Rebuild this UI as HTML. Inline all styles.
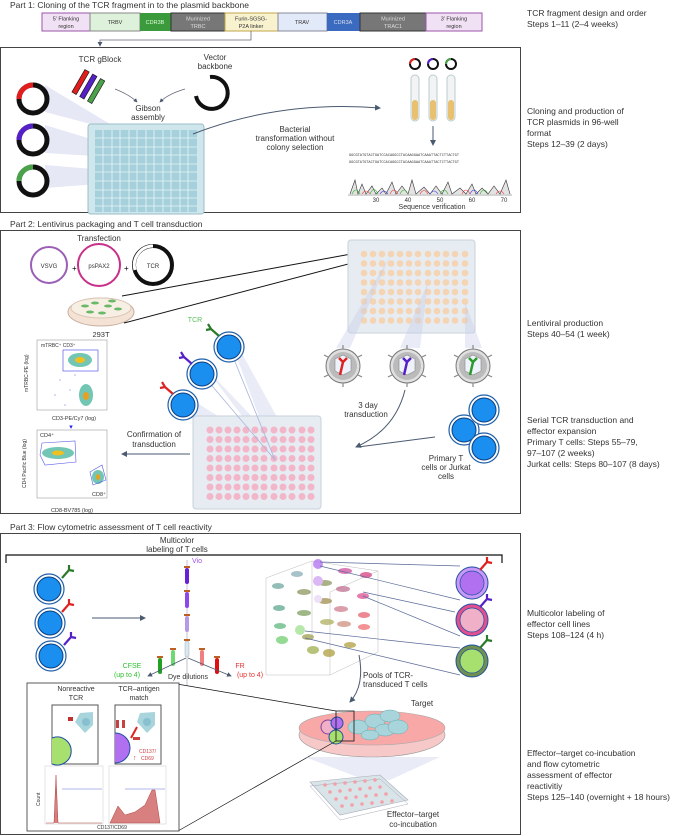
<!DOCTYPE html>
<html><head><meta charset="utf-8"><style>
body{margin:0;background:#fff;}
svg{display:block;font-family:"Liberation Sans",sans-serif;}
.t{font-size:8px;fill:#333}
.r{font-size:8.5px;fill:#333}
</style></head><body>
<svg width="685" height="836" viewBox="0 0 685 836">
<defs>
<marker id="a" markerWidth="6" markerHeight="6" refX="5" refY="3" orient="auto"><path d="M0,0 L6,3 L0,6 Z" fill="#4a5a70"/></marker>
<g id="tcell"><circle r="15" fill="#fff" stroke="#1f5fa8" stroke-width="1.2"/><circle r="12" fill="#1a8ff0" stroke="#0d3f80" stroke-width="1"/></g>
<g id="vir"><circle r="17" fill="#e0e0e0" stroke="#777" stroke-width="1"/><circle r="14" fill="#bbb"/><polygon points="-8,-7 0,-11 8,-7 8,5 0,9 -8,5" fill="#eef2fa" stroke="#888" stroke-width=".6"/>
<g stroke="#888" stroke-width="1.2"><line x1="0" y1="-17" x2="0" y2="-21"/><line x1="15" y1="-9" x2="19" y2="-11"/><line x1="15" y1="9" x2="19" y2="11"/><line x1="0" y1="17" x2="0" y2="21"/><line x1="-15" y1="9" x2="-19" y2="11"/><line x1="-15" y1="-9" x2="-19" y2="-11"/></g></g>
</defs>
<!-- Part 1 -->
<text x="10" y="8" class="r">Part 1: Cloning of the TCR fragment in to the plasmid backbone</text>
<g font-size="5.5" text-anchor="middle">
<rect x="42" y="13" width="48" height="18" fill="#f1e1f4" stroke="#9b55a8"/><text x="66" y="20.5" fill="#333">5' Flanking</text><text x="66" y="28" fill="#333">region</text>
<rect x="90" y="13" width="50" height="18" fill="#def1da" stroke="#888"/><text x="115" y="24" fill="#333">TRBV</text>
<rect x="140" y="13" width="31" height="18" fill="#3b9a3b"/><text x="155" y="24" fill="#dfd">CDR3B</text>
<rect x="171" y="13" width="54" height="18" fill="#777" stroke="#333"/><text x="198" y="20.5" fill="#ddd">Murinized</text><text x="198" y="28" fill="#ddd">TRBC</text>
<rect x="225" y="13" width="53" height="18" fill="#f8f2cf" stroke="#c3a54a"/><text x="251" y="20.5" fill="#333">Furin-SGSG-</text><text x="251" y="28" fill="#333">P2A linker</text>
<rect x="278" y="13" width="49" height="18" fill="#e2e9f8" stroke="#889"/><text x="302" y="24" fill="#333">TRAV</text>
<rect x="327" y="13" width="33" height="18" fill="#3a6bc0"/><text x="343" y="24" fill="#dde">CDR3A</text>
<rect x="360" y="13" width="66" height="18" fill="#777" stroke="#333"/><text x="393" y="20.5" fill="#ddd">Murinized</text><text x="393" y="28" fill="#ddd">TRAC1</text>
<rect x="426" y="13" width="56" height="18" fill="#f1e1f4" stroke="#9b55a8"/><text x="454" y="20.5" fill="#333">3' Flanking</text><text x="454" y="28" fill="#333">region</text>
</g>
<path d="M251,31 V40 H100 V46" fill="none" stroke="#667" stroke-width="0.8" marker-end="url(#a)"/>
<rect x="0.5" y="47.5" width="520" height="165" fill="none" stroke="#444"/>
<text x="100" y="62" class="t" text-anchor="middle">TCR gBlock</text>
<g transform="translate(95,80) rotate(30)"><rect x="-14" y="-4" width="5" height="26" fill="#e21d1d" stroke="#111" stroke-width=".6"/><rect x="-5" y="-4" width="5" height="26" fill="#5520c8" stroke="#111" stroke-width=".6"/><rect x="4" y="-4" width="5" height="26" fill="#4aa34a" stroke="#111" stroke-width=".6"/></g>
<text x="215" y="60" class="t" text-anchor="middle">Vector</text><text x="215" y="69" class="t" text-anchor="middle">backbone</text>
<path d="M210,77 A16,16 0 1 1 196,96" fill="none" stroke="#111" stroke-width="4"/>
<path d="M115,89 Q130,95 137,102" fill="none" stroke="#667" stroke-width=".7" marker-end="url(#a)"/>
<path d="M185,89 Q168,94 160,102" fill="none" stroke="#667" stroke-width=".7" marker-end="url(#a)"/>
<text x="148" y="111" class="t" text-anchor="middle">Gibson</text><text x="148" y="120" class="t" text-anchor="middle">assembly</text>
<polygon points="45,85 125,133 45,112" fill="#c7cde8" opacity=".45"/>
<polygon points="45,125 160,160 45,153" fill="#c7cde8" opacity=".45"/>
<polygon points="45,165 190,177 45,188" fill="#c7cde8" opacity=".45"/>
<rect x="88" y="124" width="116" height="90" rx="3" fill="#cfe6ec" stroke="#9bbfc8"/>
<rect x="95" y="130" width="102" height="82" fill="#a6d1dc"/>
<g stroke="#e8f4f7" stroke-width=".8">
<path d="M103,130V212M112,130V212M120,130V212M129,130V212M137,130V212M146,130V212M154,130V212M163,130V212M171,130V212M180,130V212M188,130V212M95,138H197M95,147H197M95,155H197M95,164H197M95,172H197M95,181H197M95,190H197M95,198H197M95,206H197"/></g>
<g transform="translate(33,99)"><circle r="14" fill="none" stroke="#111" stroke-width="5"/><path d="M-14,0 A14,14 0 0 1 0,-14" fill="none" stroke="#e21d1d" stroke-width="5"/></g>
<g transform="translate(33,140)"><circle r="14" fill="none" stroke="#111" stroke-width="5"/><path d="M-14,0 A14,14 0 0 1 0,-14" fill="none" stroke="#5520c8" stroke-width="5"/></g>
<g transform="translate(33,181)"><circle r="14" fill="none" stroke="#111" stroke-width="5"/><path d="M-14,0 A14,14 0 0 1 0,-14" fill="none" stroke="#4aa34a" stroke-width="5"/></g>
<path d="M193,134 Q280,100 380,108" fill="none" stroke="#4a5a70" stroke-width="1" marker-end="url(#a)"/>
<text x="295" y="132" class="t" text-anchor="middle">Bacterial</text><text x="295" y="141" class="t" text-anchor="middle">transformation without</text><text x="295" y="150" class="t" text-anchor="middle">colony selection</text>
<g>
<circle cx="415" cy="64" r="5" fill="none" stroke="#111" stroke-width="2"/><path d="M410,64 A5,5 0 0 1 415,59" fill="none" stroke="#e21d1d" stroke-width="2"/>
<circle cx="433" cy="64" r="5" fill="none" stroke="#111" stroke-width="2"/><path d="M428,64 A5,5 0 0 1 433,59" fill="none" stroke="#5520c8" stroke-width="2"/>
<circle cx="451" cy="64" r="5" fill="none" stroke="#111" stroke-width="2"/><path d="M446,64 A5,5 0 0 1 451,59" fill="none" stroke="#4aa34a" stroke-width="2"/>
<g fill="#f1f3f4" stroke="#bcc"><rect x="411" y="75" width="8" height="46" rx="4"/><rect x="429" y="75" width="8" height="46" rx="4"/><rect x="447" y="75" width="8" height="46" rx="4"/></g>
<g fill="#e8c070"><rect x="412" y="100" width="6" height="20" rx="3"/><rect x="430" y="100" width="6" height="20" rx="3"/><rect x="448" y="100" width="6" height="20" rx="3"/></g>
</g>
<path d="M433,126 V145" stroke="#4a5a70" stroke-width="1" marker-end="url(#a)"/>
<text x="349" y="156" font-size="3.6" font-family="Liberation Mono" fill="#333">GGCGTATGTACTGATCCACAGGCCTACAAGGAATCAAATTACTCTTACTGT</text>
<text x="349" y="163" font-size="3.6" font-family="Liberation Mono" fill="#333">GGCGTATGTACTGATCCACAGGCCTACAAGGAATCAAATTACTCTTACTGT</text>
<path d="M350,194 L355,180 L358,194 L362,184 L366,194 L372,186 L376,194 L382,188 L386,194 L392,182 L396,194 L402,186 L408,194 L412,180 L416,194 L424,187 L430,194 L436,186 L442,194 L448,182 L452,194 L460,188 L466,194 L472,184 L476,194 L482,188 L488,194 L494,186 L500,194 L506,180 L510,194" fill="#e3e3e3" stroke="#333" stroke-width=".6"/>
<path d="M352,194 Q356,186 360,194 M370,194 Q374,185 378,194 M400,194 Q404,186 408,194 M440,194 Q444,186 448,194 M480,194 Q484,186 488,194" fill="none" stroke="#2a2" stroke-width=".6"/>
<path d="M362,194 Q366,188 370,194 M390,194 Q394,186 398,194 M420,194 Q424,187 428,194 M462,194 Q466,186 470,194 M496,194 Q500,188 504,194" fill="none" stroke="#e33" stroke-width=".6"/>
<path d="M380,194 Q384,188 388,194 M430,194 Q434,188 438,194 M470,194 Q474,186 478,194" fill="none" stroke="#33d" stroke-width=".6"/>
<line x1="348" y1="195" x2="512" y2="195" stroke="#555" stroke-width=".6"/>
<g font-size="6" fill="#333" text-anchor="middle"><text x="376" y="202">30</text><text x="408" y="202">40</text><text x="440" y="202">50</text><text x="472" y="202">60</text><text x="504" y="202">70</text></g>
<text x="432" y="209" font-size="7" fill="#333" text-anchor="middle">Sequence verification</text>

<!-- Part 2 -->
<text x="10" y="227" class="r">Part 2: Lentivirus packaging and T cell transduction</text>
<rect x="0.5" y="230.5" width="520" height="283" fill="none" stroke="#444"/>
<text x="99" y="241" class="t" text-anchor="middle">Transfection</text>
<circle cx="49" cy="265" r="18" fill="none" stroke="#9b5fb5" stroke-width="2"/><text x="49" y="268" font-size="6" text-anchor="middle" fill="#333">VSVG</text>
<text x="72" y="271" font-size="8">+</text>
<circle cx="99" cy="265" r="21" fill="none" stroke="#c8308a" stroke-width="2"/><text x="99" y="268" font-size="6" text-anchor="middle" fill="#333">psPAX2</text>
<text x="124" y="271" font-size="8">+</text>
<circle cx="153" cy="265" r="19" fill="none" stroke="#111" stroke-width="4"/><path d="M153,246 A19,19 0 0 0 135,270" fill="none" stroke="#fff" stroke-width="3"/><text x="153" y="268" font-size="6" text-anchor="middle" fill="#333">TCR</text>
<ellipse cx="101" cy="312" rx="33" ry="14" fill="#f4e2d4" stroke="#c8b0a0"/><ellipse cx="101" cy="308" rx="30" ry="10" fill="#f8efe4" stroke="#d8c4b4"/>
<g fill="#6ab86a"><ellipse cx="85" cy="306" rx="4" ry="1.5"/><ellipse cx="95" cy="303" rx="4" ry="1.5"/><ellipse cx="108" cy="306" rx="4" ry="1.5"/><ellipse cx="118" cy="309" rx="4" ry="1.5"/><ellipse cx="90" cy="312" rx="4" ry="1.5"/><ellipse cx="102" cy="313" rx="4" ry="1.5"/><ellipse cx="112" cy="301" rx="4" ry="1.5"/></g>
<text x="101" y="337" font-size="7.5" text-anchor="middle" fill="#333">293T</text>
<line x1="122" y1="296" x2="362" y2="252" stroke="#111" stroke-width="1"/>
<line x1="124" y1="323" x2="390" y2="253" stroke="#111" stroke-width="1"/>
<rect x="348" y="240" width="127" height="93" rx="3" fill="#e6ecf2" stroke="#c8d2dc"/>
<g fill="#f4d4b2">
<g id="row1"><circle cx="364" cy="254" r="3.3"/><circle cx="373" cy="254" r="3.3"/><circle cx="382" cy="254" r="3.3"/><circle cx="391" cy="254" r="3.3"/><circle cx="400" cy="254" r="3.3"/><circle cx="409" cy="254" r="3.3"/><circle cx="418" cy="254" r="3.3"/><circle cx="428" cy="254" r="3.3"/><circle cx="437" cy="254" r="3.3"/><circle cx="446" cy="254" r="3.3"/><circle cx="455" cy="254" r="3.3"/><circle cx="465" cy="254" r="3.3"/></g>
<use href="#row1" y="9.5"/><use href="#row1" y="19"/><use href="#row1" y="28.5"/><use href="#row1" y="38"/><use href="#row1" y="47.5"/><use href="#row1" y="57"/><use href="#row1" y="66.5"/>
</g>
<polygon points="336,348 391,254 350,348" fill="#c7cde8" opacity=".4"/>
<polygon points="400,348 428,282 420,348" fill="#c7cde8" opacity=".4"/>
<polygon points="465,348 465,302 482,348" fill="#c7cde8" opacity=".4"/>
<use href="#vir" x="343" y="366"/><use href="#vir" x="407" y="366"/><use href="#vir" x="473" y="366"/>
<path d="M340,375 L343,362 M343,362 l-4,-4 M343,362 l4,-4" stroke="#d22" stroke-width="2.5" fill="none"/>
<path d="M404,375 L407,362 M407,362 l-4,-4 M407,362 l4,-4" stroke="#5520c8" stroke-width="2.5" fill="none"/>
<path d="M470,375 L473,362 M473,362 l-4,-4 M473,362 l4,-4" stroke="#2a9a2a" stroke-width="2.5" fill="none"/>
<text x="368" y="408" class="t" text-anchor="middle">3 day</text><text x="366" y="417" class="t" text-anchor="middle">transduction</text>
<path d="M405,390 Q395,430 356,447" fill="none" stroke="#4a5a70" stroke-width="1" marker-end="url(#a)"/>
<path d="M435,437 L358,447" fill="none" stroke="#4a5a70" stroke-width="1"/>
<use href="#tcell" x="464" y="430"/><use href="#tcell" x="484" y="410"/><use href="#tcell" x="484" y="448"/>
<text x="446" y="461" class="t" text-anchor="middle">Primary T</text><text x="446" y="470" class="t" text-anchor="middle">cells or Jurkat</text><text x="446" y="479" class="t" text-anchor="middle">cells</text>
<text x="195" y="322" font-size="7" fill="#5cc05c" text-anchor="middle">TCR</text>
<polygon points="229,336 275,460 310,477 240,350" fill="#c7cde8" opacity=".4"/>
<polygon points="202,363 275,460 310,477 215,378" fill="#c7cde8" opacity=".4"/>
<polygon points="183,394 240,430 210,425 190,418" fill="#c7cde8" opacity=".4"/>
<rect x="193" y="416" width="128" height="93" rx="3" fill="#e6ecf2" stroke="#c8d2dc"/>
<g fill="#f2b6c8">
<g id="row2"><circle cx="210" cy="430" r="3.5"/><circle cx="219" cy="430" r="3.5"/><circle cx="228" cy="430" r="3.5"/><circle cx="237" cy="430" r="3.5"/><circle cx="246" cy="430" r="3.5"/><circle cx="255" cy="430" r="3.5"/><circle cx="264" cy="430" r="3.5"/><circle cx="274" cy="430" r="3.5"/><circle cx="283" cy="430" r="3.5"/><circle cx="292" cy="430" r="3.5"/><circle cx="302" cy="430" r="3.5"/><circle cx="311" cy="430" r="3.5"/></g>
<use href="#row2" y="9.5"/><use href="#row2" y="19"/><use href="#row2" y="28.5"/><use href="#row2" y="38"/><use href="#row2" y="47.5"/><use href="#row2" y="57"/><use href="#row2" y="66.5"/>
</g>
<line x1="229" y1="347" x2="275" y2="460" stroke="#a8b4dc" stroke-width=".8"/>
<line x1="202" y1="374" x2="275" y2="460" stroke="#a8b4dc" stroke-width=".8"/>
<use href="#tcell" x="229" y="347"/><use href="#tcell" x="202" y="374"/><use href="#tcell" x="183" y="405"/>
<path d="M219,336 L211,329 M211,329 l-3,-5 M211,329 l-5,1" stroke="#2a7a2a" stroke-width="2.2" fill="none"/>
<path d="M192,364 L184,357 M184,357 l-3,-5 M184,357 l-5,1" stroke="#5520c8" stroke-width="2.2" fill="none"/>
<path d="M173,394 L165,387 M165,387 l-3,-5 M165,387 l-5,1" stroke="#d22" stroke-width="2.2" fill="none"/>
<text x="154" y="437" class="t" text-anchor="middle">Confirmation of</text><text x="154" y="447" class="t" text-anchor="middle">transduction</text>
<line x1="190" y1="454" x2="122" y2="454" stroke="#4a5a70" stroke-width="1" marker-end="url(#a)"/>
<rect x="37" y="340" width="70" height="70" fill="#fff" stroke="#888" stroke-width=".5"/>
<text x="41" y="347" font-size="5" fill="#333">mTRBC⁺ CD3⁺</text>
<rect x="63" y="350" width="35" height="21" fill="none" stroke="#5a5ae8" stroke-width=".7"/>
<ellipse cx="80" cy="360" rx="12" ry="7" fill="#4fb8a0" opacity=".8"/><ellipse cx="80" cy="360" rx="5" ry="3" fill="#f0c020"/>
<ellipse cx="86" cy="395" rx="7" ry="11" fill="#4fb8a0" opacity=".8"/><ellipse cx="86" cy="396" rx="3" ry="4" fill="#e8a020"/>
<g fill="#5a6ae8" opacity=".5"><circle cx="60" cy="380" r=".8"/><circle cx="70" cy="390" r=".8"/><circle cx="55" cy="395" r=".8"/><circle cx="75" cy="375" r=".8"/><circle cx="65" cy="405" r=".8"/></g>
<text x="74" y="420" font-size="5.5" fill="#333" text-anchor="middle">CD3-PE/Cy7 (log)</text>
<text x="28" y="392" font-size="5" fill="#333" transform="rotate(-90 28 392)">mTRBC-PE (log)</text>
<text x="71" y="429" font-size="7" fill="#22e" text-anchor="middle">▾</text>
<rect x="37" y="430" width="70" height="68" fill="#fff" stroke="#888" stroke-width=".5"/>
<text x="40" y="437" font-size="5.5" fill="#333">CD4⁺</text><text x="92" y="496" font-size="5.5" fill="#333">CD8⁺</text>
<polygon points="42,443 75,441 76,462 45,465 40,455" fill="none" stroke="#5a5ae8" stroke-width=".6"/>
<ellipse cx="58" cy="453" rx="16" ry="6" fill="#4fb8a0" opacity=".8"/><ellipse cx="58" cy="453" rx="6" ry="2.5" fill="#f0c020"/>
<ellipse cx="98" cy="477" rx="6" ry="7" fill="#4fb8a0" opacity=".8"/><ellipse cx="98" cy="477" rx="2" ry="3" fill="#e8a020"/>
<path d="M90,472 L102,465 L106,480 L93,485 Z" fill="none" stroke="#5a5ae8" stroke-width=".6"/>
<text x="72" y="512" font-size="5.5" fill="#333" text-anchor="middle">CD8-BV785 (log)</text>
<text x="26" y="488" font-size="5" fill="#333" transform="rotate(-90 26 488)">CD4 Pacific Blue (log)</text>

<!-- Part 3 -->
<text x="10" y="530" class="r">Part 3: Flow cytometric assessment of T cell reactivity</text>
<rect x="0.5" y="533.5" width="520" height="301" fill="none" stroke="#444"/>
<text x="177" y="543" class="t" text-anchor="middle">Multicolor</text><text x="177" y="552" class="t" text-anchor="middle">labeling of T cells</text>
<path d="M6,563 V555 H502 V563" fill="none" stroke="#111" stroke-width="1.2"/>
<use href="#tcell" x="49" y="589"/><use href="#tcell" x="50" y="623"/><use href="#tcell" x="51" y="656"/>
<path d="M62,578 L69,570 M69,570 l0,-5 M69,570 l5,1" stroke="#2a7a2a" stroke-width="2.2" fill="none"/>
<path d="M62,612 L69,604 M69,604 l0,-5 M69,604 l5,1" stroke="#d22" stroke-width="2.2" fill="none"/>
<path d="M64,645 L71,637 M71,637 l0,-5 M71,637 l5,1" stroke="#5520c8" stroke-width="2.2" fill="none"/>
<line x1="92" y1="618" x2="145" y2="618" stroke="#4a5a70" stroke-width="1" marker-end="url(#a)"/>
<line x1="187" y1="560" x2="187" y2="686" stroke="#99a" stroke-width=".6"/>
<text x="192" y="563" font-size="7" fill="#a050f0">Vio</text>
<g><rect x="184" y="566" width="6" height="2" fill="#c06020"/><rect x="185" y="568" width="4" height="16" rx="2" fill="#6a1fd8"/>
<rect x="184" y="590" width="6" height="2" fill="#c06020"/><rect x="185" y="592" width="4" height="16" rx="2" fill="#8c48e8"/>
<rect x="184" y="614" width="6" height="2" fill="#c06020"/><rect x="185" y="616" width="4" height="16" rx="2" fill="#b898e8"/>
<rect x="184" y="639" width="6" height="2" fill="#c06020"/><rect x="185" y="641" width="4" height="16" rx="2" fill="#d8e8f0" stroke="#99a" stroke-width=".4"/>
<rect x="157" y="656" width="6" height="2" fill="#c06020"/><rect x="158" y="658" width="4" height="16" rx="2" fill="#22a022"/>
<rect x="170" y="648" width="6" height="2" fill="#c06020"/><rect x="171" y="650" width="4" height="16" rx="2" fill="#70d870"/>
<rect x="199" y="648" width="6" height="2" fill="#c06020"/><rect x="200" y="650" width="4" height="16" rx="2" fill="#f08080"/>
<rect x="214" y="656" width="6" height="2" fill="#c06020"/><rect x="215" y="658" width="4" height="16" rx="2" fill="#e01010"/></g>
<line x1="186" y1="658" x2="148" y2="676" stroke="#4a5a70" stroke-width=".8" marker-end="url(#a)"/>
<line x1="188" y1="658" x2="231" y2="676" stroke="#4a5a70" stroke-width=".8" marker-end="url(#a)"/>
<text x="132" y="668" font-size="7" fill="#30c030" text-anchor="middle">CFSE</text><text x="127" y="677" font-size="7" fill="#30c030" text-anchor="middle">(up to 4)</text>
<text x="188" y="679" font-size="7" fill="#333" text-anchor="middle">Dye dilutions</text>
<text x="240" y="668" font-size="7" fill="#e83030" text-anchor="middle">FR</text><text x="250" y="677" font-size="7" fill="#e83030" text-anchor="middle">(up to 4)</text>
<g fill="none" stroke="#bbb" stroke-width=".5">
<polygon points="266,578 312,561 378,571 330,592 330,675 266,675"/><line x1="378" y1="571" x2="378" y2="652"/><line x1="330" y1="675" x2="378" y2="652"/><line x1="312" y1="561" x2="312" y2="640"/>
</g>
<g opacity=".75">
<ellipse cx="297" cy="574" rx="6" ry="3" fill="#8ab0b8"/><ellipse cx="345" cy="571" rx="7" ry="3" fill="#d050a0"/><ellipse cx="366" cy="575" rx="6" ry="3" fill="#d84080"/>
<ellipse cx="278" cy="586" rx="6" ry="3" fill="#70a8a0"/><ellipse cx="304" cy="592" rx="7" ry="3" fill="#909860"/><ellipse cx="325" cy="583" rx="7" ry="3" fill="#909860"/><ellipse cx="343" cy="589" rx="7" ry="3" fill="#c07090"/><ellipse cx="363" cy="596" rx="6" ry="3" fill="#e05090"/>
<ellipse cx="279" cy="608" rx="6" ry="3" fill="#60a890"/><ellipse cx="304" cy="613" rx="7" ry="3" fill="#80a060"/><ellipse cx="325" cy="601" rx="7" ry="3" fill="#a09050"/><ellipse cx="341" cy="609" rx="7" ry="3" fill="#d08090"/><ellipse cx="364" cy="615" rx="6" ry="3" fill="#e86070"/>
<ellipse cx="280" cy="626" rx="6" ry="3" fill="#60b880"/><ellipse cx="308" cy="637" rx="6" ry="3" fill="#a0a050"/><ellipse cx="327" cy="622" rx="7" ry="3" fill="#b0b060"/><ellipse cx="344" cy="624" rx="7" ry="3" fill="#d09080"/><ellipse cx="364" cy="627" rx="6" ry="3" fill="#f07070"/>
<ellipse cx="282" cy="640" rx="6" ry="4" fill="#70d070"/><ellipse cx="313" cy="650" rx="6" ry="4" fill="#a0b050"/><ellipse cx="329" cy="653" rx="6" ry="4" fill="#b0a040"/><ellipse cx="350" cy="645" rx="6" ry="3" fill="#b0a040"/>
<circle cx="318" cy="564" r="5" fill="#b070f0"/><circle cx="318" cy="581" r="5" fill="#d0a0f0"/><circle cx="300" cy="630" r="5" fill="#a0e090"/><circle cx="318" cy="599" r="4" fill="#e8d8f8"/>
</g>
<g stroke="#5a6a98" stroke-width=".7"><line x1="320" y1="562" x2="460" y2="566"/><line x1="320" y1="566" x2="460" y2="600"/><line x1="363" y1="592" x2="455" y2="612"/><line x1="363" y1="596" x2="460" y2="636"/><line x1="305" y1="631" x2="460" y2="648"/><line x1="305" y1="638" x2="460" y2="675"/></g>
<circle cx="472" cy="583" r="16" fill="#c898f8" stroke="#2050a0"/><circle cx="472" cy="583" r="12" fill="#b070f0" stroke="#2050a0" stroke-width=".7"/>
<circle cx="472" cy="620" r="16" fill="#e05090" stroke="#2050a0"/><circle cx="472" cy="620" r="12" fill="#f0b0c8" stroke="#2050a0" stroke-width=".7"/>
<circle cx="472" cy="661" r="16" fill="#709050" stroke="#2050a0"/><circle cx="472" cy="661" r="12" fill="#a8e070" stroke="#2050a0" stroke-width=".7"/>
<path d="M480,570 L487,562 M487,562 l0,-5 M487,562 l5,1" stroke="#d22" stroke-width="2.2" fill="none"/>
<path d="M480,607 L487,599 M487,599 l0,-5 M487,599 l5,1" stroke="#5520c8" stroke-width="2.2" fill="none"/>
<path d="M480,648 L487,640 M487,640 l0,-5 M487,640 l5,1" stroke="#2a7a2a" stroke-width="2.2" fill="none"/>
<path d="M359,655 Q365,685 350,702" fill="none" stroke="#4a5a70" stroke-width="1" marker-end="url(#a)"/>
<text x="363" y="678" class="t">Pools of TCR-</text><text x="363" y="687" class="t">transduced T cells</text>
<text x="422" y="706" class="t" text-anchor="middle">Target</text>
<ellipse cx="372" cy="735" rx="73" ry="22" fill="#f6c8c8" stroke="#999" stroke-width=".6"/>
<ellipse cx="372" cy="728" rx="73" ry="17" fill="#f9a8a8" stroke="#aaa" stroke-width=".6"/>
<g fill="#a8d4dc" stroke="#6aa" stroke-width=".5">
<ellipse cx="358" cy="727" rx="10" ry="7"/><ellipse cx="375" cy="721" rx="10" ry="7"/><ellipse cx="390" cy="716" rx="10" ry="6"/><ellipse cx="385" cy="730" rx="10" ry="6"/><ellipse cx="398" cy="727" rx="10" ry="7"/><ellipse cx="370" cy="735" rx="9" ry="5"/></g>
<circle cx="328" cy="727" r="7" fill="#f0b0c8" stroke="#8040a0"/><circle cx="337" cy="723" r="6" fill="#b070f0" stroke="#2050a0"/><circle cx="336" cy="737" r="7" fill="#a8e070" stroke="#2050a0"/>
<rect x="336" y="711" width="18" height="30" fill="none" stroke="#111" stroke-width=".8"/>
<line x1="336" y1="711" x2="171" y2="683" stroke="#111" stroke-width=".7"/>
<line x1="336" y1="741" x2="178" y2="831" stroke="#111" stroke-width=".7"/>
<polygon points="305,757 440,757 390,780 365,780" fill="#c7cde8" opacity=".4"/>
<polygon points="310,782 380,775 408,800 340,815" fill="#d8e4e8" stroke="#aab" stroke-width=".6"/>
<polygon points="310,786 380,779 408,804 340,820" fill="none" stroke="#aab" stroke-width=".5"/>
<g fill="#f4a0a8">
<circle cx="325" cy="785" r="1.8"/><circle cx="335" cy="784" r="1.8"/><circle cx="345" cy="783" r="1.8"/><circle cx="355" cy="782" r="1.8"/><circle cx="365" cy="781" r="1.8"/><circle cx="375" cy="780" r="1.8"/>
<circle cx="330" cy="792" r="1.8"/><circle cx="340" cy="791" r="1.8"/><circle cx="350" cy="790" r="1.8"/><circle cx="360" cy="789" r="1.8"/><circle cx="370" cy="788" r="1.8"/><circle cx="380" cy="787" r="1.8"/>
<circle cx="336" cy="799" r="1.8"/><circle cx="346" cy="798" r="1.8"/><circle cx="356" cy="797" r="1.8"/><circle cx="366" cy="796" r="1.8"/><circle cx="376" cy="795" r="1.8"/><circle cx="386" cy="794" r="1.8"/>
<circle cx="342" cy="806" r="1.8"/><circle cx="352" cy="805" r="1.8"/><circle cx="362" cy="804" r="1.8"/><circle cx="372" cy="803" r="1.8"/><circle cx="382" cy="802" r="1.8"/><circle cx="392" cy="801" r="1.8"/>
</g>
<text x="413" y="817" class="t" text-anchor="middle">Effector–target</text><text x="413" y="827" class="t" text-anchor="middle">co-incubation</text>
<rect x="27" y="683" width="152" height="148" fill="#fff" stroke="#333" stroke-width=".8"/>
<text x="76" y="691" font-size="7" fill="#333" text-anchor="middle">Nonreactive</text><text x="76" y="700" font-size="7" fill="#333" text-anchor="middle">TCR</text>
<text x="139" y="691" font-size="7" fill="#333" text-anchor="middle">TCR–antigen</text><text x="139" y="700" font-size="7" fill="#333" text-anchor="middle">match</text>
<rect x="52" y="705" width="46" height="59" fill="#fff" stroke="#555"/>
<rect x="115" y="705" width="46" height="59" fill="#fff" stroke="#555"/>
<path d="M80,713 L93,712 L93,725 L85,733 L75,722 Z" fill="#a8d4dc"/><circle cx="86" cy="722" r="4" fill="#88c0d0"/>
<path d="M52,738 A14,14 0 1 1 52,764" fill="#a8e070" stroke="#2050a0"/>
<rect x="68" y="717" width="5" height="4" fill="#c03030"/>
<path d="M140,713 L155,712 L155,725 L147,733 L137,722 Z" fill="#a8d4dc"/><circle cx="147" cy="722" r="4" fill="#88c0d0"/>
<path d="M115,733 A15,15 0 1 1 115,763" fill="#b070f0" stroke="#2050a0"/>
<g fill="#c84040"><rect x="116" y="720" width="3" height="8"/><rect x="122" y="720" width="3" height="8"/><rect x="133" y="737" width="7" height="3"/></g>
<path d="M131,738 L137,727" stroke="#d22" stroke-width="2"/>
<text x="139" y="753" font-size="5" fill="#d04040">CD137/</text><text x="141" y="760" font-size="5" fill="#d04040">CD69</text>
<text x="133" y="760" font-size="7" fill="#d04040">↑</text>
<rect x="45" y="766" width="58" height="58" fill="#fff" stroke="#bbb" stroke-width=".4"/>
<rect x="109" y="766" width="57" height="58" fill="#fff" stroke="#bbb" stroke-width=".4"/>
<path d="M46,823 L54,823 L56,775 L58,823 L102,823" fill="#d88080" stroke="#b04040" stroke-width=".5"/>
<line x1="62" y1="789" x2="102" y2="789" stroke="#6070d0" stroke-width=".6"/>
<path d="M110,823 L118,806 L125,815 L135,812 L145,805 L152,790 L155,790 L160,823 Z" fill="#d88080" stroke="#b04040" stroke-width=".5"/>
<line x1="125" y1="789" x2="165" y2="789" stroke="#6070d0" stroke-width=".6"/>
<text x="40" y="806" font-size="5" fill="#333" transform="rotate(-90 40 806)">Count</text>
<text x="112" y="829" font-size="5" fill="#333" text-anchor="middle">CD137/CD69</text>

<g class="r" font-size="8.5" fill="#333">
<text x="527" y="16">TCR fragment design and order</text>
<text x="527" y="27">Steps 1–11 (2–4 weeks)</text>
<text x="527" y="114">Cloning and production of</text>
<text x="527" y="125">TCR plasmids in 96-well</text>
<text x="527" y="136">format</text>
<text x="527" y="147">Steps 12–39 (2 days)</text>
<text x="527" y="326">Lentiviral production</text>
<text x="527" y="337">Steps 40–54 (1 week)</text>
<text x="527" y="423">Serial TCR transduction and</text>
<text x="527" y="434">effector expansion</text>
<text x="527" y="445">Primary T cells: Steps 55–79,</text>
<text x="527" y="456">97–107 (2 weeks)</text>
<text x="527" y="467">Jurkat cells: Steps 80–107 (8 days)</text>
<text x="527" y="616">Multicolor labeling of</text>
<text x="527" y="627">effector cell lines</text>
<text x="527" y="638">Steps 108–124 (4 h)</text>
<text x="527" y="756">Effector–target co-incubation</text>
<text x="527" y="767">and flow cytometric</text>
<text x="527" y="778">assessment of effector</text>
<text x="527" y="789">reactivitiy</text>
<text x="527" y="800">Steps 125–140 (overnight + 18 hours)</text>
</g>
</svg>
</body></html>
